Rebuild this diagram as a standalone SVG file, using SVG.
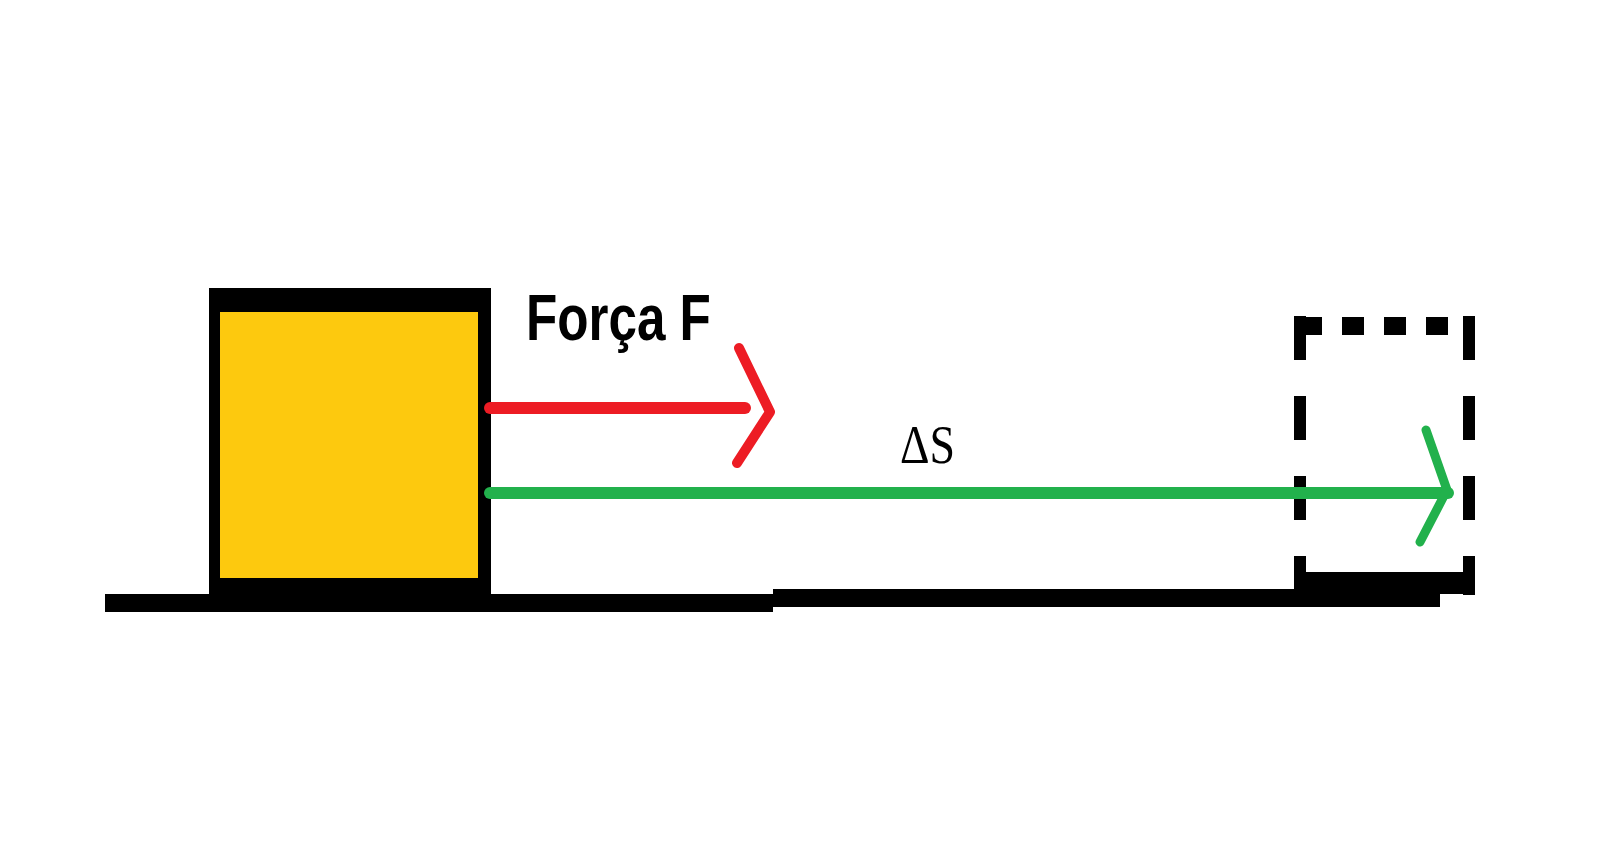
<svg xmlns="http://www.w3.org/2000/svg" width="1600" height="847" viewBox="0 0 1600 847">
<style>
.lbl{font-family:"Liberation Sans",Arial,sans-serif;fill:#000}
</style>
<rect width="1600" height="847" fill="#fff"/>
<g id="ground">
<rect x="105" y="594" width="668" height="18" fill="#000"/>
<rect x="773" y="589" width="667" height="18" fill="#000"/>
</g>
<g id="block">
<rect x="209" y="288" width="282" height="306" fill="#000"/>
<rect x="220" y="312" width="258" height="266" fill="#fdc90e"/>
</g>
<g id="target" fill="none" stroke="#000" stroke-width="12">
<path d="M1300 316V595M1469 316V595" stroke-dasharray="44 36"/>
<path d="M1300 326H1469" stroke-dasharray="22 20" stroke-width="18"/>
<path d="M1295 583H1475" stroke-width="22"/>
</g>
<g id="connectors" fill="none" stroke-linecap="round" stroke-linejoin="round">
<path d="M490 408H745" stroke="#ed1c24" stroke-width="12"/>
<path d="M739 348L770 412L737 463" stroke="#ed1c24" stroke-width="10"/>
<path d="M490 493H1448" stroke="#22b14c" stroke-width="12"/>
<path d="M1426 430L1447 490L1420 542" stroke="#22b14c" stroke-width="9"/>
</g>
<text class="lbl" x="526" y="340" font-size="64" font-weight="bold" transform="translate(526 0) scale(0.8 1) translate(-526 0)">Força F</text>
<text x="900" y="463" font-size="54" font-family="Liberation Serif,serif" fill="#000" transform="translate(900 0) scale(0.85 1) translate(-900 0)">ΔS</text>
</svg>
